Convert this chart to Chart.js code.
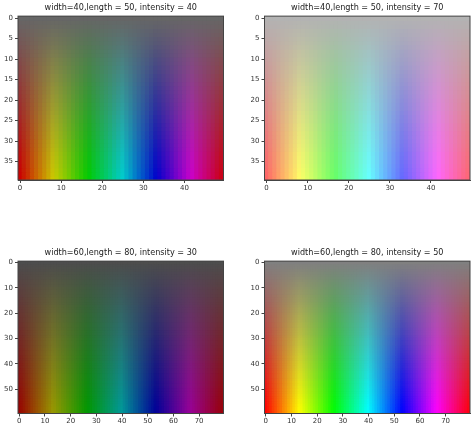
<!DOCTYPE html>
<html>
<head>
<meta charset="utf-8">
<script src="https://cdn.jsdelivr.net/npm/chart.js@4"></script>
<style>
  html, body { margin: 0; padding: 0; background: #fff; }
  #wrap { position: relative; width: 474px; height: 430px; overflow: hidden; }
  canvas { position: absolute; filter: blur(0.4px); }
</style>
</head>
<body>
<div id="wrap">
  <canvas id="c1" width="237" height="200" style="left:0;top:0;width:237px;height:200px"></canvas>
  <canvas id="c2" width="237" height="200" style="left:237px;top:0;width:237px;height:200px"></canvas>
  <canvas id="c3" width="237" height="190" style="left:0;top:240px;width:237px;height:190px"></canvas>
  <canvas id="c4" width="237" height="190" style="left:237px;top:240px;width:237px;height:190px"></canvas>
</div>
<script>
// hue of each column, read along the bottom row of the pictures (degrees)
const hue50 = [0,7,14,22,29,36,43,50,58,65,72,79,86,94,101,108,115,122,130,137,144,151,158,166,173,180,187,194,202,209,216,223,230,238,245,252,259,266,274,281,288,295,302,310,317,324,331,338,346,353];
const hue80 = [0,5,9,14,18,23,27,32,36,41,45,50,54,59,63,68,72,77,81,86,90,95,99,104,108,113,117,122,126,131,135,140,144,149,153,158,162,167,171,176,180,185,189,194,198,203,207,212,216,221,225,230,234,239,243,248,252,257,261,266,270,275,279,284,288,293,297,302,306,311,315,320,324,329,333,338,342,347,351,356];

// colour strength of each row, top to bottom (0 = grey, 1 = full colour)
const sat40 = [0,.03,.05,.08,.10,.13,.15,.18,.21,.23,.26,.28,.31,.33,.36,.38,.41,.44,.46,.49,.51,.54,.56,.59,.62,.64,.67,.69,.72,.74,.77,.79,.82,.85,.87,.90,.92,.95,.97,1];
const sat60 = [0,.02,.03,.05,.07,.08,.10,.12,.14,.15,.17,.19,.20,.22,.24,.25,.27,.29,.31,.32,.34,.36,.37,.39,.41,.42,.44,.46,.47,.49,.51,.53,.54,.56,.58,.59,.61,.63,.64,.66,.68,.69,.71,.73,.75,.76,.78,.80,.81,.83,.85,.86,.88,.90,.92,.93,.95,.97,.98,1];

const titles = ['width=40,length = 50, intensity = 40', 'width=40,length = 50, intensity = 70', 'width=60,length = 80, intensity = 30', 'width=60,length = 80, intensity = 50'];
const intensities = [40, 70, 30, 50];
const xTicks50 = [0, 10, 20, 30, 40];
const yTicks40 = [0, 5, 10, 15, 20, 25, 30, 35];
const xTicks80 = [0, 10, 20, 30, 40, 50, 60, 70];
const yTicks60 = [0, 10, 20, 30, 40, 50];

const frame = {
  id: 'frame',
  afterDatasetsDraw(chart) {
    const a = chart.chartArea;
    const ctx = chart.ctx;
    ctx.save();
    ctx.strokeStyle = '#444';
    ctx.lineWidth = 1;
    ctx.strokeRect(a.left, a.top, a.right - a.left, a.bottom - a.top);
    ctx.restore();
  }
};

// maps a cell (hue, strength, intensity) to its colour
function cellColor(h, s, l) {
  return 'hsl(' + h + ',' + Math.round(s * 100) + '%,' + l + '%)';
}

function heatmap(id, title, intensity, hues, sats, xTicks, yTicks, size) {
  const labels = hues.map((h, i) => String(i));
  const datasets = sats.map((s, r) => ({
    data: hues.map(() => [r - 0.5, r + 0.5]),
    backgroundColor: hues.map(h => cellColor(h, s, intensity))
  }));
  new Chart(document.getElementById(id), {
    type: 'bar',
    data: { labels: labels, datasets: datasets },
    options: {
      responsive: false,
      animation: false,
      events: [],
      layout: { padding: { right: size.right } },
      datasets: { bar: { grouped: false, barPercentage: 1, categoryPercentage: 1, inflateAmount: 0.5 } },
      plugins: {
        legend: { display: false },
        tooltip: { enabled: false },
        title: {
          display: true,
          text: title,
          fullSize: false,
          color: '#222',
          font: { family: 'DejaVu Sans', size: 8.1, weight: 'normal' },
          padding: { top: size.titleTop, bottom: size.titleBottom }
        }
      },
      scales: {
        x: {
          offset: true,
          grid: { offset: false, drawOnChartArea: false, tickLength: 3, tickColor: '#444' },
          border: { color: '#444' },
          ticks: { autoSkip: false, maxRotation: 0, padding: 0.5, color: '#333', font: { family: 'DejaVu Sans', size: 7 } },
          afterBuildTicks(scale) { scale.ticks = xTicks.map(v => ({ value: v })); },
          afterFit(scale) { scale.height = size.bottom; }
        },
        y: {
          reverse: true,
          min: -0.5,
          max: sats.length - 0.5,
          grid: { drawOnChartArea: false, tickLength: 3, tickColor: '#444' },
          border: { color: '#444' },
          ticks: { padding: 2, color: '#333', font: { family: 'DejaVu Sans', size: 7 } },
          afterBuildTicks(scale) { scale.ticks = yTicks.map(v => ({ value: v })); },
          afterFit(scale) { scale.width = size.left; }
        }
      }
    },
    plugins: [frame]
  });
}

const topLeft = { left: 18, right: 13.5, bottom: 20, titleTop: 3.2, titleBottom: 3.2 };
const topRight = { left: 27.5, right: 4, bottom: 20, titleTop: 3.2, titleBottom: 3.2 };
const botLeft = { left: 18, right: 13.5, bottom: 16.5, titleTop: 8.5, titleBottom: 2.9 };
const botRight = { left: 27.5, right: 4, bottom: 16.5, titleTop: 8.5, titleBottom: 2.9 };

heatmap('c1', titles[0], intensities[0], hue50, sat40, xTicks50, yTicks40, topLeft);
heatmap('c2', titles[1], intensities[1], hue50, sat40, xTicks50, yTicks40, topRight);
heatmap('c3', titles[2], intensities[2], hue80, sat60, xTicks80, yTicks60, botLeft);
heatmap('c4', titles[3], intensities[3], hue80, sat60, xTicks80, yTicks60, botRight);
</script>
</body>
</html>
